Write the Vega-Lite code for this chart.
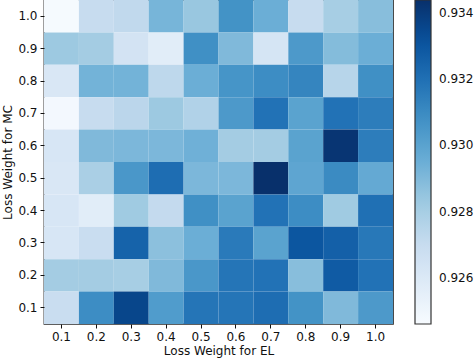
{
  "$schema": "https://vega.github.io/schema/vega-lite/v6.json",
  "width": 349,
  "height": 324,
  "autosize": {"type": "none"},
  "padding": {"left": 44, "top": 0, "right": 81, "bottom": 38},
  "background": "white",
  "config": {
    "font": "DejaVu Sans",
    "view": {"stroke": "#2a2a2a", "strokeWidth": 1.3},
    "axis": {"labelFontSize": 12, "titleFontSize": 12, "labelColor": "#111", "titleColor": "#111", "titleFontWeight": "normal", "domain": false, "tickColor": "#111", "tickSize": 4, "grid": false}
  },
  "data": {"values": [
    {"mc":"1.0","el":"0.1","acc":0.9247},{"mc":"1.0","el":"0.2","acc":0.9270},{"mc":"1.0","el":"0.3","acc":0.9272},{"mc":"1.0","el":"0.4","acc":0.9292},{"mc":"1.0","el":"0.5","acc":0.9284},{"mc":"1.0","el":"0.6","acc":0.9307},{"mc":"1.0","el":"0.7","acc":0.9295},{"mc":"1.0","el":"0.8","acc":0.9270},{"mc":"1.0","el":"0.9","acc":0.9280},{"mc":"1.0","el":"1.0","acc":0.9288},
    {"mc":"0.9","el":"0.1","acc":0.9283},{"mc":"0.9","el":"0.2","acc":0.9281},{"mc":"0.9","el":"0.3","acc":0.9264},{"mc":"0.9","el":"0.4","acc":0.9257},{"mc":"0.9","el":"0.5","acc":0.9308},{"mc":"0.9","el":"0.6","acc":0.9290},{"mc":"0.9","el":"0.7","acc":0.9263},{"mc":"0.9","el":"0.8","acc":0.9304},{"mc":"0.9","el":"0.9","acc":0.9289},{"mc":"0.9","el":"1.0","acc":0.9295},
    {"mc":"0.8","el":"0.1","acc":0.9261},{"mc":"0.8","el":"0.2","acc":0.9293},{"mc":"0.8","el":"0.3","acc":0.9293},{"mc":"0.8","el":"0.4","acc":0.9273},{"mc":"0.8","el":"0.5","acc":0.9295},{"mc":"0.8","el":"0.6","acc":0.9306},{"mc":"0.8","el":"0.7","acc":0.9309},{"mc":"0.8","el":"0.8","acc":0.9312},{"mc":"0.8","el":"0.9","acc":0.9275},{"mc":"0.8","el":"1.0","acc":0.9308},
    {"mc":"0.7","el":"0.1","acc":0.9248},{"mc":"0.7","el":"0.2","acc":0.9270},{"mc":"0.7","el":"0.3","acc":0.9274},{"mc":"0.7","el":"0.4","acc":0.9283},{"mc":"0.7","el":"0.5","acc":0.9277},{"mc":"0.7","el":"0.6","acc":0.9304},{"mc":"0.7","el":"0.7","acc":0.9319},{"mc":"0.7","el":"0.8","acc":0.9300},{"mc":"0.7","el":"0.9","acc":0.9319},{"mc":"0.7","el":"1.0","acc":0.9315},
    {"mc":"0.6","el":"0.1","acc":0.9262},{"mc":"0.6","el":"0.2","acc":0.9290},{"mc":"0.6","el":"0.3","acc":0.9291},{"mc":"0.6","el":"0.4","acc":0.9291},{"mc":"0.6","el":"0.5","acc":0.9294},{"mc":"0.6","el":"0.6","acc":0.9281},{"mc":"0.6","el":"0.7","acc":0.9281},{"mc":"0.6","el":"0.8","acc":0.9300},{"mc":"0.6","el":"0.9","acc":0.9342},{"mc":"0.6","el":"1.0","acc":0.9315},
    {"mc":"0.5","el":"0.1","acc":0.9261},{"mc":"0.5","el":"0.2","acc":0.9279},{"mc":"0.5","el":"0.3","acc":0.9305},{"mc":"0.5","el":"0.4","acc":0.9321},{"mc":"0.5","el":"0.5","acc":0.9291},{"mc":"0.5","el":"0.6","acc":0.9291},{"mc":"0.5","el":"0.7","acc":0.9344},{"mc":"0.5","el":"0.8","acc":0.9299},{"mc":"0.5","el":"0.9","acc":0.9310},{"mc":"0.5","el":"1.0","acc":0.9297},
    {"mc":"0.4","el":"0.1","acc":0.9262},{"mc":"0.4","el":"0.2","acc":0.9257},{"mc":"0.4","el":"0.3","acc":0.9282},{"mc":"0.4","el":"0.4","acc":0.9271},{"mc":"0.4","el":"0.5","acc":0.9308},{"mc":"0.4","el":"0.6","acc":0.9300},{"mc":"0.4","el":"0.7","acc":0.9319},{"mc":"0.4","el":"0.8","acc":0.9309},{"mc":"0.4","el":"0.9","acc":0.9282},{"mc":"0.4","el":"1.0","acc":0.9320},
    {"mc":"0.3","el":"0.1","acc":0.9262},{"mc":"0.3","el":"0.2","acc":0.9269},{"mc":"0.3","el":"0.3","acc":0.9325},{"mc":"0.3","el":"0.4","acc":0.9287},{"mc":"0.3","el":"0.5","acc":0.9295},{"mc":"0.3","el":"0.6","acc":0.9316},{"mc":"0.3","el":"0.7","acc":0.9300},{"mc":"0.3","el":"0.8","acc":0.9330},{"mc":"0.3","el":"0.9","acc":0.9326},{"mc":"0.3","el":"1.0","acc":0.9317},
    {"mc":"0.2","el":"0.1","acc":0.9281},{"mc":"0.2","el":"0.2","acc":0.9281},{"mc":"0.2","el":"0.3","acc":0.9280},{"mc":"0.2","el":"0.4","acc":0.9290},{"mc":"0.2","el":"0.5","acc":0.9305},{"mc":"0.2","el":"0.6","acc":0.9318},{"mc":"0.2","el":"0.7","acc":0.9319},{"mc":"0.2","el":"0.8","acc":0.9288},{"mc":"0.2","el":"0.9","acc":0.9328},{"mc":"0.2","el":"1.0","acc":0.9319},
    {"mc":"0.1","el":"0.1","acc":0.9269},{"mc":"0.1","el":"0.2","acc":0.9309},{"mc":"0.1","el":"0.3","acc":0.9336},{"mc":"0.1","el":"0.4","acc":0.9303},{"mc":"0.1","el":"0.5","acc":0.9318},{"mc":"0.1","el":"0.6","acc":0.9318},{"mc":"0.1","el":"0.7","acc":0.9321},{"mc":"0.1","el":"0.8","acc":0.9307},{"mc":"0.1","el":"0.9","acc":0.9290},{"mc":"0.1","el":"1.0","acc":0.9304}
  ]},
  "mark": {"type": "rect"},
  "encoding": {
    "x": {"field": "el", "type": "ordinal", "sort": "ascending", "scale": {"paddingInner": 0, "paddingOuter": 0}, "axis": {"title": "Loss Weight for EL", "labelAngle": 0, "labelPadding": 3, "titlePadding": 3}},
    "y": {"field": "mc", "type": "ordinal", "sort": "descending", "scale": {"paddingInner": 0, "paddingOuter": 0}, "axis": {"title": "Loss Weight for MC", "labelPadding": 3, "titlePadding": 3}},
    "color": {"field": "acc", "type": "quantitative",
      "scale": {"type": "linear", "domain": [0.9246, 0.9344], "interpolate": "rgb", "range": ["#f7fbff","#deebf7","#c6dbef","#9ecae1","#6baed6","#4292c6","#2171b5","#08519c","#08306b"]},
      "legend": {"title": null, "orient": "right", "offset": 22, "gradientLength": 324, "gradientThickness": 16, "gradientStrokeColor": "#333", "gradientStrokeWidth": 1.2, "values": [0.926, 0.928, 0.930, 0.932, 0.934], "format": ".3f", "labelFontSize": 12, "labelColor": "#111", "labelOffset": 8, "padding": 0}
    }
  }
}
